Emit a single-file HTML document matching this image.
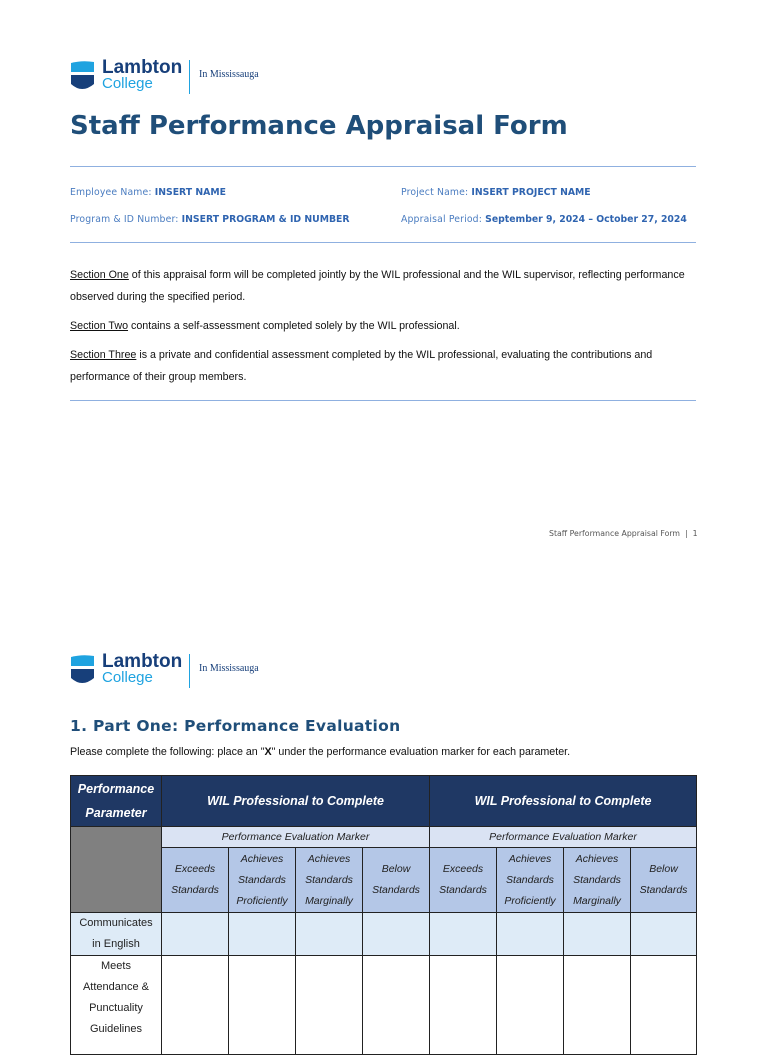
<!DOCTYPE html>
<html><head><meta charset="utf-8"><style>
*{margin:0;padding:0;box-sizing:border-box}
body{width:768px;height:1024px;background:#fff;position:relative;overflow:hidden;font-family:"DejaVu Sans","Liberation Sans",sans-serif}
.a{position:absolute;white-space:nowrap}
.hr{position:absolute;left:70px;width:626px;height:1px;background:#8fb0e0}
.p{font-family:"Liberation Sans",sans-serif;font-size:10.7px;color:#111}
.lab{font-size:9.3px;color:#4a7cc0;letter-spacing:.15px}
.lab b{color:#2f64b0;font-weight:bold;letter-spacing:0}
.c{position:absolute;border:1px solid #222;display:flex;align-items:center;justify-content:center;text-align:center;font-family:"Liberation Sans",sans-serif;font-size:11px;line-height:21px;color:#222}
.hd{background:#1f3864;color:#fff;font-style:italic;font-weight:bold;font-size:12.5px;line-height:24px}
.m{background:#dae3f3;font-style:italic;font-size:10.5px}
.s{background:#b4c7e7;font-style:italic;font-size:10.5px}
</style></head><body>

<div class="a" style="left:70px;top:60px;width:200px;height:40px">
<svg width="26" height="34" style="position:absolute;left:0;top:0"><path d="M1 3 Q12 0 24 2 L24 12 L1 12Z" fill="#1fa3e0"/><path d="M1 15 L24 15 L24 24 Q12 34 1 24Z" fill="#173f7a"/></svg>
<div class="a" style="left:32px;top:-3px;font-size:19px;font-weight:bold;color:#173f7a;font-family:'Liberation Sans',sans-serif">Lambton</div>
<div class="a" style="left:32px;top:15px;font-size:15px;color:#1fa3e0;font-family:'Liberation Sans',sans-serif">College</div>
<div class="a" style="left:119px;top:0;width:1px;height:34px;background:#1fa3e0"></div>
<div class="a" style="left:129px;top:9px;font-size:10px;color:#173f7a;font-family:'Liberation Serif',serif">In Mississauga</div>
</div>

<div class="a" style="left:70px;top:111px;font-size:26px;font-weight:bold;color:#1f4e79">Staff Performance Appraisal Form</div>
<div class="hr" style="top:166px"></div>
<div class="a lab" style="left:70px;top:187px">Employee Name: <b>INSERT NAME</b></div>
<div class="a lab" style="left:401px;top:187px">Project Name: <b>INSERT PROJECT NAME</b></div>
<div class="a lab" style="left:70px;top:214px">Program &amp; ID Number: <b>INSERT PROGRAM &amp; ID NUMBER</b></div>
<div class="a lab" style="left:401px;top:214px">Appraisal Period: <b>September 9, 2024 – October 27, 2024</b></div>
<div class="hr" style="top:242px"></div>

<div class="a p" style="left:70px;top:269px"><u>Section One</u> of this appraisal form will be completed jointly by the WIL professional and the WIL supervisor, reflecting performance</div>
<div class="a p" style="left:70px;top:291px">observed during the specified period.</div>
<div class="a p" style="left:70px;top:320px"><u>Section Two</u> contains a self-assessment completed solely by the WIL professional.</div>
<div class="a p" style="left:70px;top:349px"><u>Section Three</u> is a private and confidential assessment completed by the WIL professional, evaluating the contributions and</div>
<div class="a p" style="left:70px;top:371px">performance of their group members.</div>
<div class="hr" style="top:400px"></div>

<div class="a" style="left:549px;top:529px;font-size:7.8px;color:#555">Staff Performance Appraisal Form &nbsp;|&nbsp; 1</div>

<div class="a" style="left:70px;top:654px;width:200px;height:40px">
<svg width="26" height="34" style="position:absolute;left:0;top:0"><path d="M1 3 Q12 0 24 2 L24 12 L1 12Z" fill="#1fa3e0"/><path d="M1 15 L24 15 L24 24 Q12 34 1 24Z" fill="#173f7a"/></svg>
<div class="a" style="left:32px;top:-3px;font-size:19px;font-weight:bold;color:#173f7a;font-family:'Liberation Sans',sans-serif">Lambton</div>
<div class="a" style="left:32px;top:15px;font-size:15px;color:#1fa3e0;font-family:'Liberation Sans',sans-serif">College</div>
<div class="a" style="left:119px;top:0;width:1px;height:34px;background:#1fa3e0"></div>
<div class="a" style="left:129px;top:9px;font-size:10px;color:#173f7a;font-family:'Liberation Serif',serif">In Mississauga</div>
</div>

<div class="a" style="left:70px;top:717px;font-size:15.5px;font-weight:bold;color:#1f4e79;letter-spacing:.3px">1. Part One: Performance Evaluation</div>
<div class="a p" style="left:70px;top:746px">Please complete the following: place an "<b>X</b>" under the performance evaluation marker for each parameter.</div>

<div class="c hd" style="left:70px;top:775px;width:92px;height:52px">Performance<br>Parameter</div>
<div class="c hd" style="left:161px;top:775px;width:269px;height:52px">WIL Professional to Complete</div>
<div class="c hd" style="left:429px;top:775px;width:268px;height:52px">WIL Professional to Complete</div>
<div class="c" style="left:70px;top:826px;width:92px;height:87px;background:#808080"></div>
<div class="c m" style="left:161px;top:826px;width:269px;height:22px">Performance Evaluation Marker</div>
<div class="c m" style="left:429px;top:826px;width:268px;height:22px">Performance Evaluation Marker</div>

<div class="c s" style="left:161px;top:847px;width:68px;height:66px">Exceeds<br>Standards</div>
<div class="c s" style="left:228px;top:847px;width:68px;height:66px">Achieves<br>Standards<br>Proficiently</div>
<div class="c s" style="left:295px;top:847px;width:68px;height:66px">Achieves<br>Standards<br>Marginally</div>
<div class="c s" style="left:362px;top:847px;width:68px;height:66px">Below<br>Standards</div>
<div class="c s" style="left:429px;top:847px;width:68px;height:66px">Exceeds<br>Standards</div>
<div class="c s" style="left:496px;top:847px;width:68px;height:66px">Achieves<br>Standards<br>Proficiently</div>
<div class="c s" style="left:563px;top:847px;width:68px;height:66px">Achieves<br>Standards<br>Marginally</div>
<div class="c s" style="left:630px;top:847px;width:67px;height:66px">Below<br>Standards</div>

<div class="c" style="left:70px;top:912px;width:92px;height:44px;background:#deebf7">Communicates<br>in English</div>
<div class="c" style="left:161px;top:912px;width:68px;height:44px;background:#deebf7"></div>
<div class="c" style="left:228px;top:912px;width:68px;height:44px;background:#deebf7"></div>
<div class="c" style="left:295px;top:912px;width:68px;height:44px;background:#deebf7"></div>
<div class="c" style="left:362px;top:912px;width:68px;height:44px;background:#deebf7"></div>
<div class="c" style="left:429px;top:912px;width:68px;height:44px;background:#deebf7"></div>
<div class="c" style="left:496px;top:912px;width:68px;height:44px;background:#deebf7"></div>
<div class="c" style="left:563px;top:912px;width:68px;height:44px;background:#deebf7"></div>
<div class="c" style="left:630px;top:912px;width:67px;height:44px;background:#deebf7"></div>

<div class="c" style="left:70px;top:955px;width:92px;height:100px;align-items:flex-start">Meets<br>Attendance &amp;<br>Punctuality<br>Guidelines</div>
<div class="c" style="left:161px;top:955px;width:68px;height:100px"></div>
<div class="c" style="left:228px;top:955px;width:68px;height:100px"></div>
<div class="c" style="left:295px;top:955px;width:68px;height:100px"></div>
<div class="c" style="left:362px;top:955px;width:68px;height:100px"></div>
<div class="c" style="left:429px;top:955px;width:68px;height:100px"></div>
<div class="c" style="left:496px;top:955px;width:68px;height:100px"></div>
<div class="c" style="left:563px;top:955px;width:68px;height:100px"></div>
<div class="c" style="left:630px;top:955px;width:67px;height:100px"></div>
</body></html>
